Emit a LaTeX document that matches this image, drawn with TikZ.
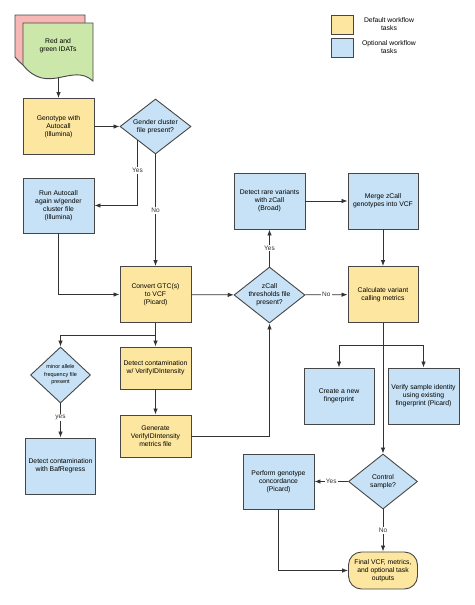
\documentclass[tikz,border=0pt]{standalone}
\usepackage{fontspec}
\setmainfont{Liberation Sans}
\usetikzlibrary{shapes.geometric,arrows.meta,quotes}
\definecolor{taskyellow}{RGB}{253,231,160}
\definecolor{taskblue}{RGB}{199,226,246}
\definecolor{idatred}{RGB}{247,183,180}
\definecolor{idatgreen}{RGB}{203,232,170}
\definecolor{edgegray}{RGB}{70,70,70}
\definecolor{linegray}{RGB}{51,51,51}

\begin{document}
\begin{tikzpicture}[x=1pt,y=-1pt,
  box/.style={draw=edgegray,line width=0.9pt,minimum width=71,minimum height=56,inner sep=1pt,align=center,font=\fontsize{6.8}{8}\selectfont},
  dflt/.style={box,fill=taskyellow},
  opt/.style={box,fill=taskblue},
  ask/.style={diamond,draw=edgegray,line width=0.9pt,fill=taskblue,minimum width=71,minimum height=56,inner sep=0pt},
  asktxt/.style={align=center,inner sep=0pt,font=\fontsize{6.8}{8}\selectfont},
  flow/.style={draw=linegray,line width=0.8pt,-{Latex[length=6pt,width=4.5pt]}},
  lbl/.style={fill=white,inner sep=1pt,text=linegray,font=\fontsize{6.5}{7}\selectfont},
  every edge quotes/.style={lbl}]
  \useasboundingbox (0,0) rectangle (474,605);

  \filldraw[fill=idatred,draw=edgegray,line width=0.9pt] (15,15) -- (85,15) -- (85,73) .. controls (64,54) and (40,88) .. (15,57) -- cycle;
  \filldraw[fill=idatgreen,draw=edgegray,line width=0.9pt] (23,23) -- (93,23) -- (93,81) .. controls (72,62) and (48,96) .. (23,65) -- cycle;
  \node[asktxt] (idat) at (58,46) {Red and\\green IDATs};
  \coordinate (idatwave) at (58.5,77.5);

  \foreach \k/\y/\c/\w in {dflt/24.5/taskyellow/{Default workflow\\tasks}, opt/47.5/taskblue/{Optional workflow\\tasks}}
  {
    \node[draw=edgegray,line width=0.9pt,fill=\c,minimum width=22,minimum height=19,inner sep=0pt] (key\k) at (342,\y) {};
    \node[asktxt] (key\k txt) at (389,\y) {\w};
  }

  \node[dflt] (geno) at (58.5,126.5) {Genotype with\\Autocall\\(Illumina)};
  \node[ask,minimum height=55,label={[asktxt]center:Gender cluster\\file present?}] (gender) at (155.5,126.5) {};
  \node[opt,minimum height=55] (rerun) at (58.5,205.5) {Run Autocall\\again w/gender\\cluster file\\(Illumina)};
  \node[dflt] (convert) at (155.5,294.5) {Convert GTC(s)\\to VCF\\(Picard)};
  \node[ask,label={[asktxt]center:zCall\\thresholds file\\present?}] (zdec) at (269.5,295) {};
  \node[opt] (rare) at (269.5,201) {Detect rare variants\\with zCall\\(Broad)};
  \node[opt,minimum width=70] (merge) at (383,201) {Merge zCall\\genotypes into VCF};
  \node[dflt,minimum width=70] (calc) at (383,294.5) {Calculate variant\\calling metrics};
  \node[ask,minimum width=60,label={[asktxt,font=\fontsize{5.5}{7.5}\selectfont]center:minor allele\\frequency file\\present}] (maf) at (60.5,375) {};
  \node[opt,minimum width=70] (baf) at (60.5,466) {Detect contamination\\with BafRegress};
  \node[dflt,minimum height=42] (vid) at (155.5,368) {Detect contamination\\w/ VerifyIDIntensity};
  \node[dflt,minimum height=42] (gen) at (155.5,436) {Generate\\VerifyIDIntensity\\metrics file};
  \node[opt,minimum width=70] (newfp) at (339,396) {Create a new\\fingerprint};
  \node[opt] (verify) at (423.5,396) {Verify sample identity\\using existing\\fingerprint (Picard)};
  \node[ask,minimum width=69,minimum height=55,label={[asktxt]center:Control\\sample?}] (control) at (383,481.5) {};
  \node[opt,minimum height=55] (concord) at (278.5,481.5) {Perform genotype\\concordance\\(Picard)};
  \node[dflt,rounded corners=13,minimum width=69,minimum height=37] (final) at (383,570.5) {Final VCF, metrics,\\and optional task\\outputs};

  \coordinate (fork) at (155.5,335);
  \coordinate (split) at (383,345);

  \draw[flow] (idatwave) -- (geno);
  \draw[flow] (geno) -- (gender);
  \draw[flow] (gender.south west) |- node[lbl,pos=.23] {Yes} (rerun);
  \draw[flow] (gender) to["No"] (convert);
  \draw[flow] (rerun) |- (convert);
  \draw[flow] (convert) -- (zdec);
  \draw[flow] (zdec) to["Yes"] (rare);
  \draw[flow] (rare) -- (merge);
  \draw[flow] (merge) -- (calc);
  \draw[flow] (zdec) to["No"] (calc);
  \draw[flow] (convert) -- (vid);
  \draw[flow] (fork) -| (maf);
  \draw[flow] (maf) to["yes" pos=.4] (baf);
  \draw[flow] (vid) -- (gen);
  \draw[flow] (gen) -| (zdec);
  \draw[flow] (calc) -- (control);
  \draw[flow] (split) -| (newfp);
  \draw[flow] (split) -| (verify);
  \draw[flow] (control) to["Yes"] (concord);
  \draw[flow] (control) to["No"] (final);
  \draw[flow] (concord) |- (final);
\end{tikzpicture}
\end{document}
